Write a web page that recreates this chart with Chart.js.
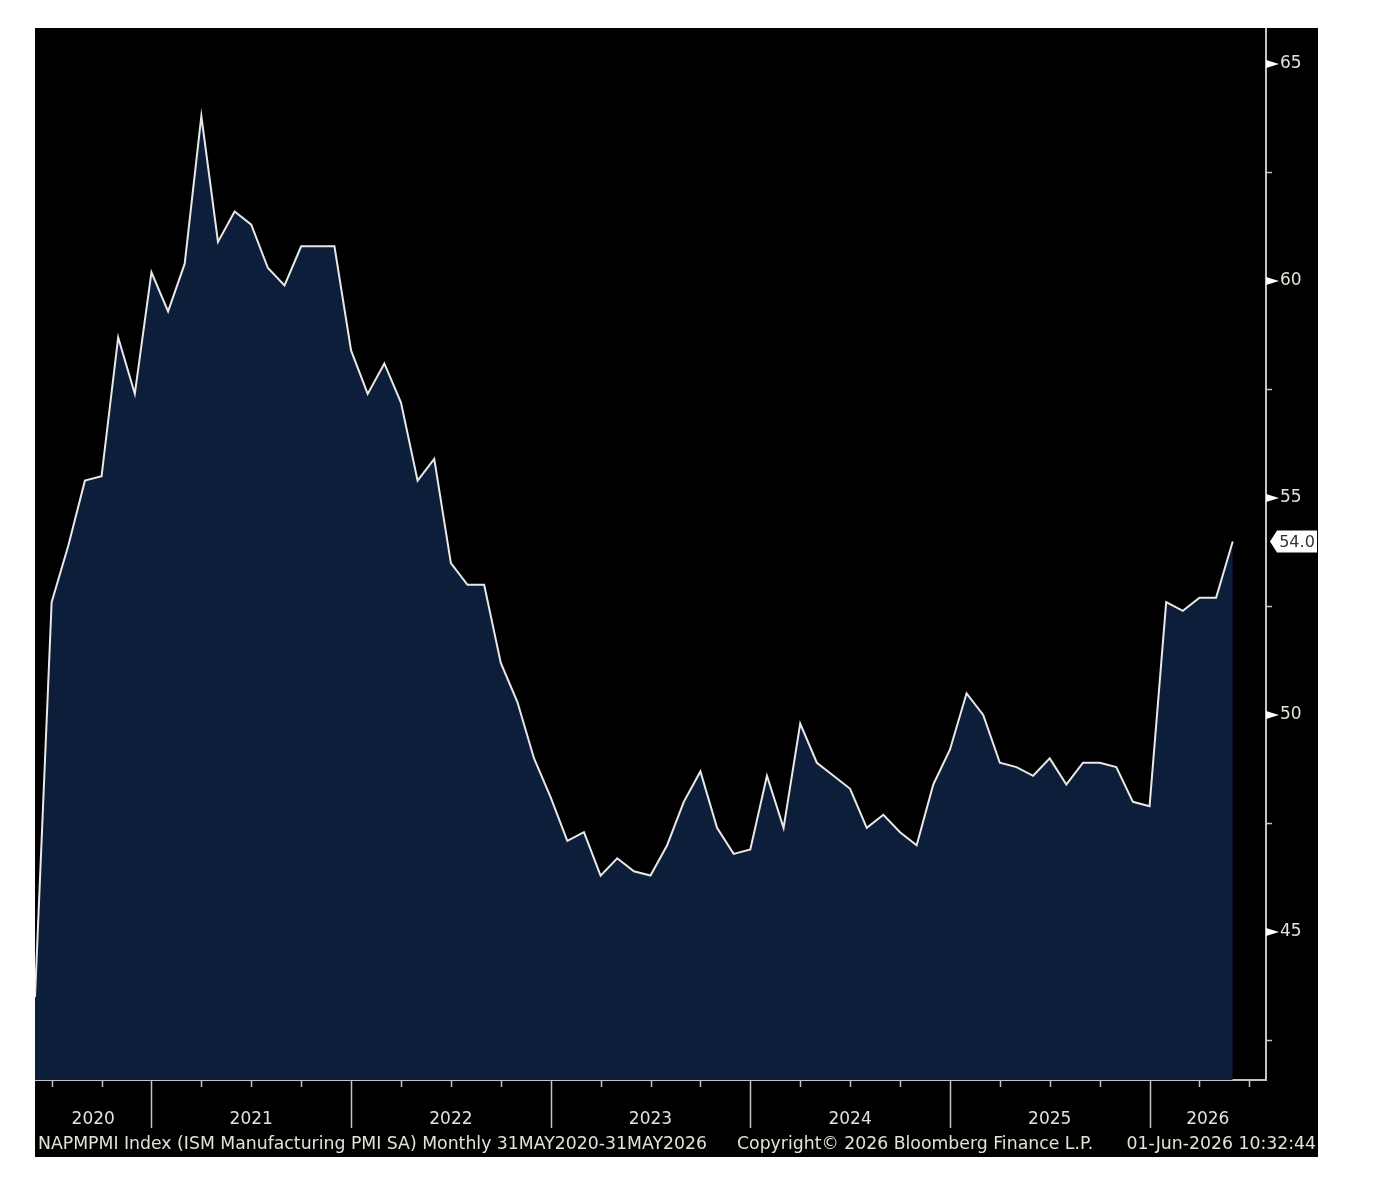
<!DOCTYPE html>
<html>
<head>
<meta charset="utf-8">
<script src="https://cdn.jsdelivr.net/npm/chart.js@4.4.1/dist/chart.umd.min.js"></script>
<style>
  html, body { margin: 0; padding: 0; background: #fff; }
  #panel { position: absolute; left: 35px; top: 28px; width: 1283px; height: 1129px; background: #000; }
</style>
</head>
<body>
<div id="panel"><canvas id="pmiChart"></canvas></div>
<script>
// month-end observations, ISM manufacturing PMI
var months = [
  '2020-05', '2020-06', '2020-07', '2020-08', '2020-09', '2020-10', '2020-11', '2020-12',
  '2021-01', '2021-02', '2021-03', '2021-04', '2021-05', '2021-06', '2021-07', '2021-08', '2021-09', '2021-10', '2021-11', '2021-12',
  '2022-01', '2022-02', '2022-03', '2022-04', '2022-05', '2022-06', '2022-07', '2022-08', '2022-09', '2022-10', '2022-11', '2022-12',
  '2023-01', '2023-02', '2023-03', '2023-04', '2023-05', '2023-06', '2023-07', '2023-08', '2023-09', '2023-10', '2023-11', '2023-12',
  '2024-01', '2024-02', '2024-03', '2024-04', '2024-05', '2024-06', '2024-07', '2024-08', '2024-09', '2024-10', '2024-11', '2024-12',
  '2025-01', '2025-02', '2025-03', '2025-04', '2025-05', '2025-06', '2025-07', '2025-08', '2025-09', '2025-10', '2025-11', '2025-12',
  '2026-01', '2026-02', '2026-03', '2026-04', '2026-05'
];
var pmi = [
  43.5, 52.6, 53.9, 55.4, 55.5, 58.7, 57.4, 60.2,
  59.3, 60.4, 63.8, 60.9, 61.6, 61.3, 60.3, 59.9, 60.8, 60.8, 60.8, 58.4,
  57.4, 58.1, 57.2, 55.4, 55.9, 53.5, 53.0, 53.0, 51.2, 50.3, 49.0, 48.1,
  47.1, 47.3, 46.3, 46.7, 46.4, 46.3, 47.0, 48.0, 48.7, 47.4, 46.8, 46.9,
  48.6, 47.4, 49.8, 48.9, 48.6, 48.3, 47.4, 47.7, 47.3, 47.0, 48.4, 49.2,
  50.5, 50.0, 48.9, 48.8, 48.6, 49.0, 48.4, 48.9, 48.9, 48.8, 48.0, 47.9,
  52.6, 52.4, 52.7, 52.7, 54.0
];
var yearLabels = ['2020', '2021', '2022', '2023', '2024', '2025', '2026'];
var yTicks = [42.5, 45, 47.5, 50, 52.5, 55, 57.5, 60, 62.5, 65];

var footerLeft = 'NAPMPMI Index (ISM Manufacturing PMI SA) Monthly 31MAY2020-31MAY2026';
var footerMid = 'Copyright\u00a9 2026 Bloomberg Finance L.P.';
var footerRight = '01-Jun-2026 10:32:44';

var baseYear = 2020;
var xMin = 5, xMax = 79;          // months since Jan 2020
var yMin = 41.59, yMax = 65.83;

var FONT = '"DejaVu Sans", "Liberation Sans", sans-serif';
var TXT = '#e4e1d6';
var AXIS = '#c4c4c4';

function monthPos(m) {
  var p = m.split('-');
  return (parseInt(p[0], 10) - baseYear) * 12 + parseInt(p[1], 10);
}

var points = months.map(function(m, i) { return { x: monthPos(m), y: pmi[i] }; });

// year label sits in the middle of the visible part of its year
var yearCenters = yearLabels.map(function(y) {
  var s = Math.max((parseInt(y, 10) - baseYear) * 12, xMin);
  var e = Math.min((parseInt(y, 10) - baseYear) * 12 + 12, xMax);
  return (s + e) / 2;
});

var decor = {
  id: 'decor',
  afterDraw: function(chart) {
    var c = chart.ctx, a = chart.chartArea;
    var xs = chart.scales.x, ys = chart.scales.y;
    c.save();
    c.strokeStyle = AXIS;
    c.fillStyle = '#ffffff';
    c.lineWidth = 1.5;

    // y axis marks
    yTicks.forEach(function(v) {
      var py = ys.getPixelForValue(v);
      if (v % 5 === 0) {
        c.beginPath();
        c.moveTo(a.right, py - 4);
        c.lineTo(a.right + 13, py);
        c.lineTo(a.right, py + 4);
        c.closePath();
        c.fill();
      } else {
        c.beginPath();
        c.moveTo(a.right, py);
        c.lineTo(a.right + 6, py);
        c.stroke();
      }
    });

    // quarter ticks, year separators
    for (var q = 6; q < xMax; q += 3) {
      var px = Math.round(xs.getPixelForValue(q)) + 0.5;
      c.beginPath();
      c.moveTo(px, a.bottom);
      c.lineTo(px, a.bottom + (q % 12 === 0 ? 48 : 7));
      c.stroke();
    }

    // last value callout
    var last = pmi[pmi.length - 1];
    var ly = ys.getPixelForValue(last);
    var bx = a.right + 4;
    c.fillStyle = '#ffffff';
    c.beginPath();
    c.moveTo(bx, ly);
    c.lineTo(bx + 7, ly - 11);
    c.lineTo(bx + 47, ly - 11);
    c.lineTo(bx + 47, ly + 11);
    c.lineTo(bx + 7, ly + 11);
    c.closePath();
    c.fill();
    c.fillStyle = '#333333';
    c.font = '16px ' + FONT;
    c.textAlign = 'center';
    c.textBaseline = 'middle';
    c.fillText(last.toFixed(1), bx + 27, ly + 1);

    // footer line
    c.fillStyle = TXT;
    c.font = '17.3px ' + FONT;
    c.textBaseline = 'middle';
    var fy = a.bottom + 65;
    c.textAlign = 'left';
    c.fillText(footerLeft, 3, fy);
    c.fillText(footerMid, 702, fy);
    c.textAlign = 'right';
    c.fillText(footerRight, chart.width - 2, fy);
    c.restore();
  }
};

var ctx = document.getElementById('pmiChart').getContext('2d');
var pmiChart = new Chart(ctx, {
  type: 'line',
  data: {
    datasets: [{
      data: points,
      borderColor: '#e8e8e8',
      borderWidth: 2,
      backgroundColor: '#0d1e3b',
      fill: 'start',
      pointRadius: 0,
      tension: 0
    }]
  },
  options: {
    responsive: true,
    maintainAspectRatio: false,
    animation: false,
    layout: { padding: 0 },
    plugins: {
      legend: { display: false },
      tooltip: { enabled: false }
    },
    scales: {
      x: {
        type: 'linear',
        min: xMin,
        max: xMax,
        afterBuildTicks: function(s) {
          s.ticks = yearCenters.map(function(v) { return { value: v }; });
        },
        afterFit: function(s) {
          s.height = 77;
          s.paddingLeft = 0; s.paddingRight = 0;
        },
        grid: { drawOnChartArea: false, drawTicks: false },
        border: { color: AXIS, width: 2 },
        ticks: {
          autoSkip: false,
          maxRotation: 0,
          padding: 29,
          color: TXT,
          font: { family: FONT, size: 17 },
          callback: function(v) {
            var i = yearCenters.indexOf(v);
            return i >= 0 ? yearLabels[i] : '';
          }
        }
      },
      y: {
        position: 'right',
        min: yMin,
        max: yMax,
        afterBuildTicks: function(s) {
          s.ticks = yTicks.map(function(v) { return { value: v }; });
        },
        afterFit: function(s) {
          s.width = 52;
          s.paddingTop = 0; s.paddingBottom = 0;
        },
        grid: { drawOnChartArea: false, drawTicks: false },
        border: { color: AXIS, width: 2 },
        ticks: {
          autoSkip: false,
          padding: 14,
          color: TXT,
          font: { family: FONT, size: 17 },
          callback: function(v) { return v % 5 === 0 ? String(v) : ''; }
        }
      }
    }
  },
  plugins: [decor]
});
</script>
</body>
</html>
